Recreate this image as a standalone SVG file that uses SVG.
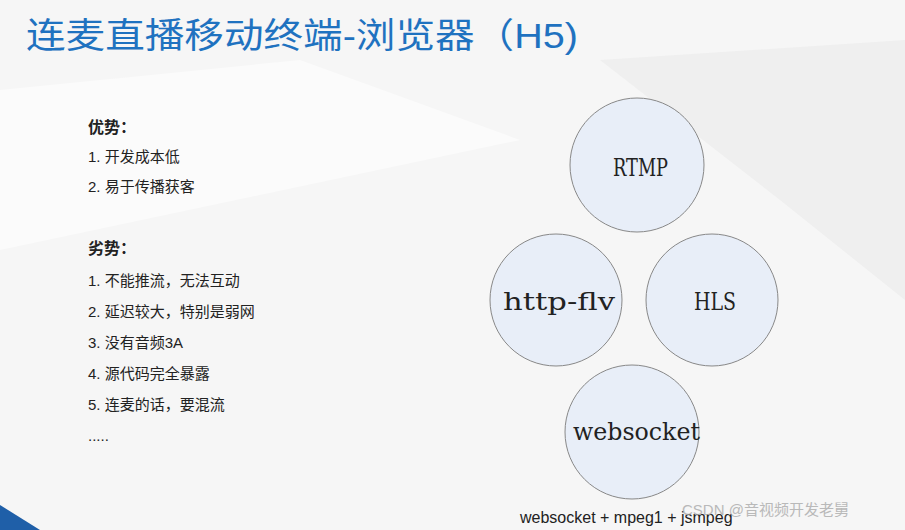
<svg xmlns="http://www.w3.org/2000/svg" width="905" height="530" viewBox="0 0 905 530">
<style>
.c{fill:#e8eef8;stroke:#888;stroke-width:1}
.n{font-family:"DejaVu Serif",serif;font-size:24px;fill:#222}
.t{font-family:"Liberation Sans","Noto Sans CJK SC",sans-serif;font-size:15px;fill:#222}
.b{font-weight:bold;font-size:16px}
</style>
<rect width="905" height="530" fill="#f6f6f6"/>
<polygon points="0,90 300,60 520,140 0,250" fill="#fbfbfb"/>
<polygon points="600,60 905,40 905,300 780,200" fill="#efefef"/>
<polygon points="0,505 40,530 0,530" fill="#1f5fa8"/>
<text x="26" y="48" font-family="Liberation Sans,'Noto Sans CJK SC',sans-serif" font-size="35" fill="#1f72c0" textLength="552" lengthAdjust="spacingAndGlyphs">连麦直播移动终端-浏览器（H5)</text>
<g id="left">
<text class="t b" x="88" y="133">优势：</text>
<text class="t" x="88" y="162">1. 开发成本低</text>
<text class="t" x="88" y="192">2. 易于传播获客</text>
<text class="t b" x="88" y="254">劣势：</text>
<text class="t" x="88" y="286">1. 不能推流，无法互动</text>
<text class="t" x="88" y="317">2. 延迟较大，特别是弱网</text>
<text class="t" x="88" y="348">3. 没有音频3A</text>
<text class="t" x="88" y="379">4. 源代码完全暴露</text>
<text class="t" x="88" y="410">5. 连麦的话，要混流</text>
<text class="t" x="88" y="441">.....</text>
</g>
<g id="rtmp"><circle class="c" cx="637" cy="165" r="67"/><text class="n" x="613" y="176" textLength="55" lengthAdjust="spacingAndGlyphs">RTMP</text></g>
<g id="flv"><circle class="c" cx="556" cy="300" r="66"/><text class="n" x="503" y="310" textLength="112" lengthAdjust="spacingAndGlyphs">http-flv</text></g>
<g id="hls"><circle class="c" cx="712" cy="300" r="66"/><text class="n" x="694" y="310" textLength="42" lengthAdjust="spacingAndGlyphs">HLS</text></g>
<g id="ws"><circle class="c" cx="632" cy="432" r="67"/><text class="n" x="573" y="440" textLength="127" lengthAdjust="spacingAndGlyphs">websocket</text></g>
<g id="connectors"/>
<text x="520" y="523" font-family="Liberation Sans,sans-serif" font-size="16" fill="#222">websocket + mpeg1 + jsmpeg</text>
<text x="682" y="515" font-family="Liberation Sans,'Noto Sans CJK SC',sans-serif" font-size="15" fill="#aaa" opacity="0.8">CSDN @音视频开发老舅</text>
</svg>
